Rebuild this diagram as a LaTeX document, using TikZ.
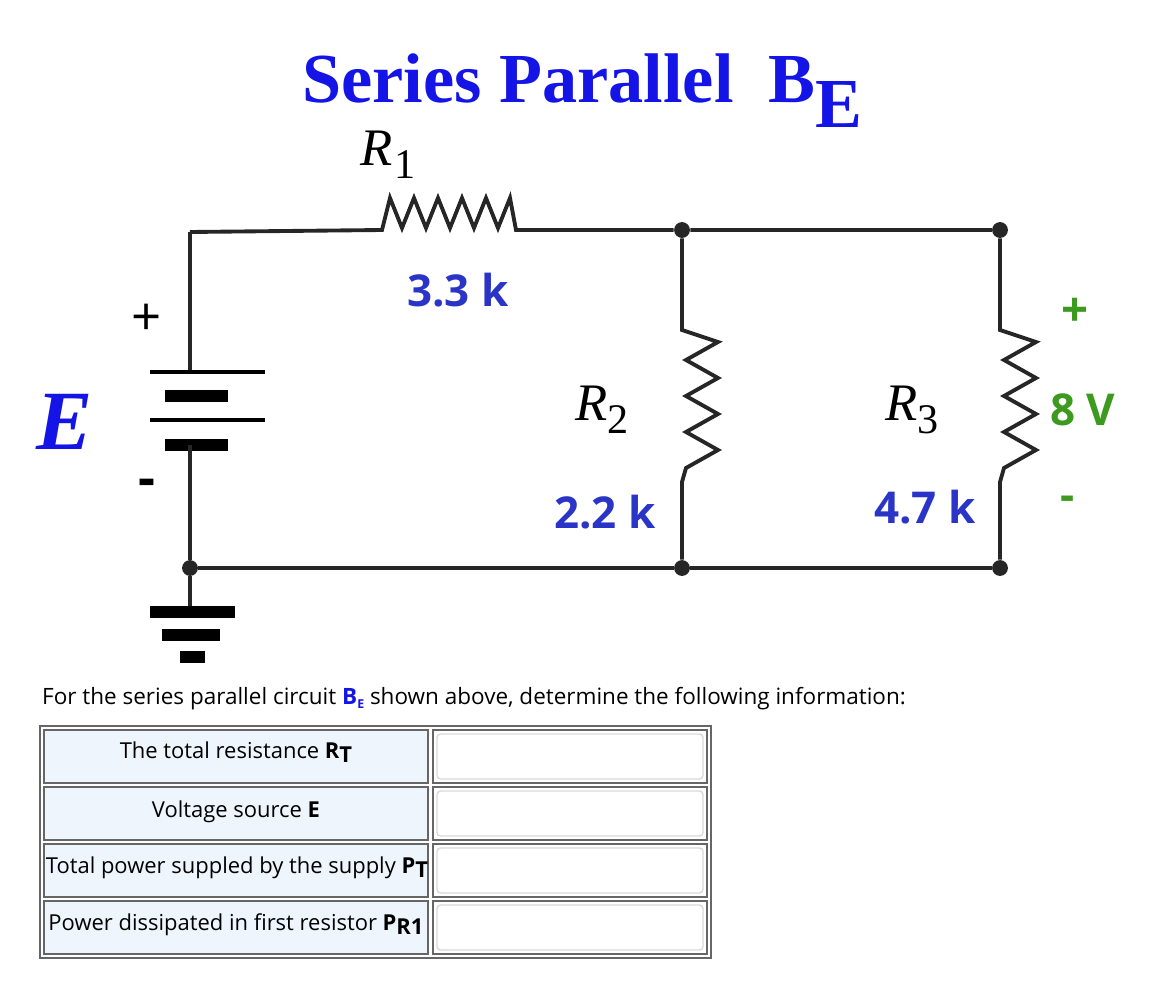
\documentclass[tikz,border=0pt]{standalone}
\usepackage{fontspec}
\setmainfont{Open Sans}
\newfontfamily\serifb{Liberation Serif}
\definecolor{tblue}{HTML}{1414E6}
\definecolor{lblue}{HTML}{2A35C8}
\definecolor{vgreen}{HTML}{3C9A1E}
\definecolor{cellbg}{HTML}{EEF5FC}
\tikzset{wire/.style={line width=2.2pt,black!85},
 dotn/.style={circle,fill=black!85,inner sep=0pt,minimum size=9pt},
 vlab/.style={font=\fontsize{25}{25}\selectfont\bfseries,text=lblue},
 rlab/.style={font=\serifb\itshape\fontsize{30}{30}\selectfont},
 cellL/.style={draw=black!60,fill=cellbg,line width=0.6pt},
 cellR/.style={draw=black!60,fill=white,line width=0.6pt},
 ctext/.style={font=\fontsize{12.5}{14}\selectfont}}
\newcommand{\rsub}[1]{\raisebox{-0.25em}{\upshape\fontsize{24}{24}\selectfont #1}}
\begin{document}
\begin{tikzpicture}[x=0.02cm,y=-0.02cm]
\useasboundingbox (0,0) rectangle (1170,990);
% title
\node[font=\serifb\bfseries\fontsize{40}{40}\selectfont,text=tblue,anchor=base west] (title) at (296,103) {Series Parallel \ B\raisebox{-0.35em}{E}};
% nodes
\node[dotn] (tr) at (682,230) {};
\node[dotn] (tf) at (1000,230) {};
\node[dotn] (bl) at (190,568) {};
\node[dotn] (br) at (682,568) {};
\node[dotn] (bf) at (1000,568) {};
\coordinate (tl) at (190,232);
\coordinate (bt) at (190,372);
\coordinate (bb) at (190,445);
\coordinate (gt) at (190,612);
% top wire with R1
\draw[wire] (tl) -- (382,230) -- (390,198) -- (402,228) -- (414,198) -- (426,228) -- (438,198) -- (450,228) -- (462,198) -- (474,228) -- (486,198) -- (498,228) -- (510,198) -- (516,230) -- (tr) -- (tf);
\draw[wire] (bl) -- (br) -- (bf);
% battery
\draw[wire] (tl) -- (bt);
\draw[line width=2pt] (150,372) -- (265,372);
\draw[line width=7pt] (165,396) -- (228,396);
\draw[line width=2pt] (150,420) -- (265,420);
\draw[line width=7pt] (165,445) -- (228,445);
\draw[wire] (bb) -- (bl) -- (gt);
% ground
\draw[line width=7pt] (150,612) -- (235,612);
\draw[line width=7pt] (162,635) -- (220,635);
\draw[line width=7pt] (180,657) -- (205,657);
% R2
\draw[wire] (tr) -- (682,330) -- (718,342) -- (686,360) -- (718,378) -- (686,396) -- (718,414) -- (686,432) -- (718,450) -- (686,468) -- (682,482) -- (br);
% R3
\draw[wire] (tf) -- (1000,330) -- (1036,342) -- (1004,360) -- (1036,378) -- (1004,396) -- (1036,414) -- (1004,432) -- (1036,450) -- (1004,468) -- (1000,482) -- (bf);
% labels
\node[rlab] (r1l) at (388,155) {R\kern1pt\rsub{1}};
\node[vlab] (v1) at (458,290) {3.3 k};
\node[rlab] (r2l) at (602,410) {R\rsub{2}};
\node[vlab] (v2) at (605,512) {2.2 k};
\node[rlab] (r3l) at (912,410) {R\rsub{3}};
\node[vlab] (v3) at (925,507) {4.7 k};
\node[font=\fontsize{30}{30}\selectfont] (plus) at (147,320) {+};
\node[font=\fontsize{30}{30}\selectfont\bfseries] (minus) at (147,488) {-};
\node[font=\serifb\bfseries\itshape\fontsize{48}{48}\selectfont,text=tblue] (E) at (65,422) {E};
\node[font=\fontsize{27}{27}\selectfont\bfseries,text=vgreen] (gp) at (1075,312) {+};
\node[font=\fontsize{25}{25}\selectfont\bfseries,text=vgreen] (gv) at (1083,410) {8 V};
\node[font=\fontsize{25}{25}\selectfont\bfseries,text=vgreen] (gm) at (1068,503) {-};
% question
\node[anchor=west,font=\fontsize{12.8}{14}\selectfont] (q) at (36,699) {For the series parallel circuit \textbf{\textcolor{tblue}{B\raisebox{-0.3ex}{\scriptsize E}}} shown above, determine the following information:};
% table
\draw[black!60,line width=0.6pt] (40,726) rectangle (711,958);
\foreach \y in {730,787,844,901}{
 \draw[cellL] (44,\y) rectangle (428,\y+53);
 \draw[cellR] (433,\y) rectangle (707,\y+53);
 \draw[draw=black!15,line width=0.8pt,rounded corners=2pt] (437,\y+4) rectangle (703,\y+49);
}
\node[ctext] (c1) at (236,752) {The total resistance \textbf{R\raisebox{-0.3ex}{T}}};
\node[ctext] (c2) at (236,812) {Voltage source \textbf{E}};
\node[ctext] (c3) at (237,868) {Total power suppled by the supply \textbf{P\raisebox{-0.3ex}{T}}};
\node[ctext] (c4) at (236,925) {Power dissipated in first resistor \textbf{P\raisebox{-0.3ex}{R1}}};
\end{tikzpicture}
\end{document}
